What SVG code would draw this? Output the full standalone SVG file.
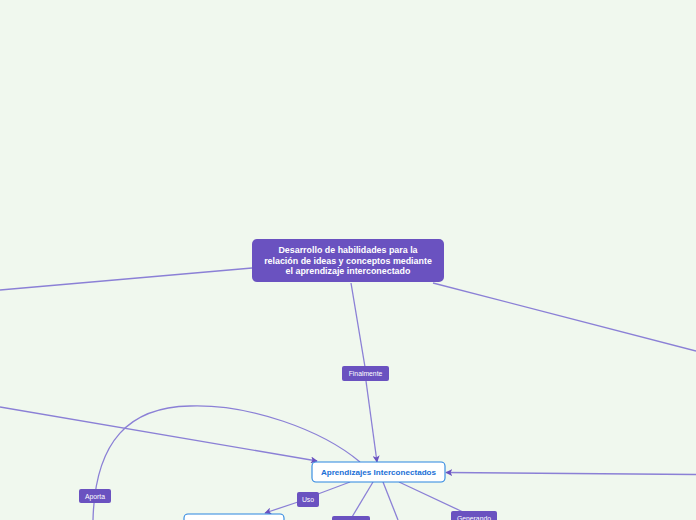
<svg xmlns="http://www.w3.org/2000/svg" width="696" height="520" viewBox="0 0 696 520">
<defs>
<style>
.bg{fill:#f0f8ee}
.ln{fill:none;stroke:#8b80d6;stroke-width:1.3}
.main{fill:#6a52c0}
.mt{fill:#fff;font-family:"Liberation Sans",Arial,sans-serif;font-weight:bold;font-size:8.9px;text-anchor:middle}
.lbl{fill:#6a52c0}
.lt{fill:#fff;font-family:"Liberation Sans",Arial,sans-serif;font-size:6.8px;text-anchor:middle}
.box{fill:#fff;stroke:#2a85e0;stroke-width:1.1}
.bt{fill:#1a6fd6;font-family:"Liberation Sans",Arial,sans-serif;font-weight:bold;font-size:8.1px;text-anchor:middle}
</style>
<marker id="ar" viewBox="0 0 10 10" refX="9" refY="5" markerWidth="7" markerHeight="7" markerUnits="userSpaceOnUse" orient="auto">
<path d="M0,0 L10,5 L0,10 L2.5,5 z" fill="#6a52c0"/>
</marker>
</defs>
<rect class="bg" x="0" y="0" width="696" height="520"/>
<g id="connectors">
<line class="ln" x1="252" y1="268" x2="0" y2="290"/>
<line class="ln" x1="433" y1="283" x2="696" y2="351"/>
<line class="ln" x1="351" y1="283" x2="365" y2="367"/>
<line class="ln" x1="366" y1="381" x2="377" y2="462" marker-end="url(#ar)"/>
<line class="ln" x1="0" y1="407" x2="317" y2="461" marker-end="url(#ar)"/>
<line class="ln" x1="696" y1="474.5" x2="446" y2="472.5" marker-end="url(#ar)"/>
<path class="ln" d="M360 462 C322 430 250 404 190 406 C130 407 95 440 93 520"/>
<line class="ln" x1="350" y1="482" x2="318" y2="494"/>
<line class="ln" x1="298" y1="502" x2="265" y2="513" marker-end="url(#ar)"/>
<line class="ln" x1="373" y1="482" x2="352" y2="517"/>
<line class="ln" x1="383" y1="482" x2="398" y2="520"/>
<line class="ln" x1="399" y1="482" x2="463" y2="512"/>
</g>
<g id="central">
<rect class="main" x="252" y="239" width="192" height="43" rx="5"/>
<text class="mt" x="348" y="253">Desarrollo de habilidades para la</text>
<text class="mt" x="348" y="263.7">relación de ideas y conceptos mediante</text>
<text class="mt" x="348" y="274.4">el aprendizaje interconectado</text>
</g>
<g id="finalmente">
<rect class="lbl" x="342" y="366" width="47" height="15" rx="2"/>
<text class="lt" x="365.5" y="376">Finalmente</text>
</g>
<g id="aprendizajes">
<rect class="box" x="312" y="462" width="133" height="20" rx="4"/>
<text class="bt" x="378.5" y="475">Aprendizajes Interconectados</text>
</g>
<g id="aporta">
<rect class="lbl" x="79" y="489" width="32" height="14" rx="2"/>
<text class="lt" x="95" y="498.5">Aporta</text>
</g>
<g id="uso">
<rect class="lbl" x="297" y="492" width="22" height="15" rx="2"/>
<text class="lt" x="308" y="501.8">Uso</text>
</g>
<g id="box-below">
<rect class="box" x="184" y="514" width="100" height="20" rx="4"/>
</g>
<g id="label-mid">
<rect class="lbl" x="332" y="516" width="38" height="14" rx="2"/>
</g>
<g id="generando">
<rect class="lbl" x="451" y="511" width="46" height="15" rx="2"/>
<text class="lt" x="474" y="521">Generando</text>
</g>
</svg>
